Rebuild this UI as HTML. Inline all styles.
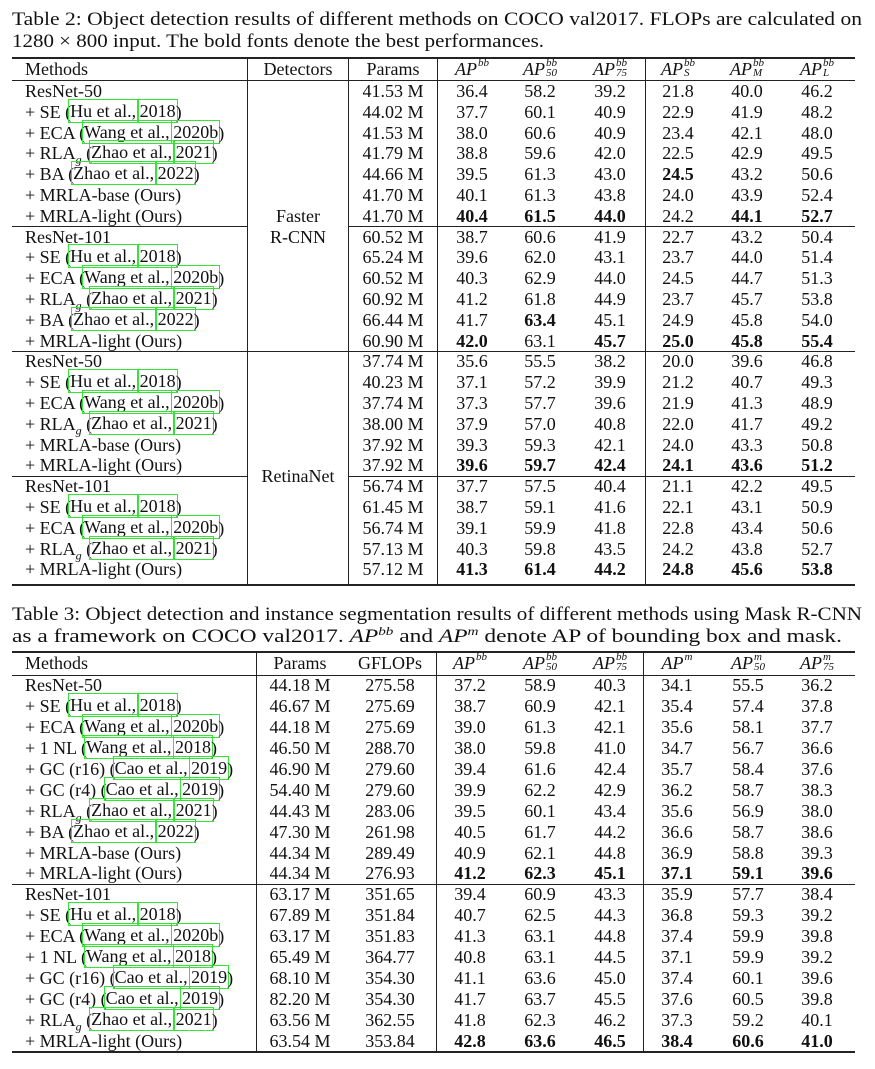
<!DOCTYPE html>
<html><head><meta charset="utf-8">
<style>
html,body{margin:0;padding:0;background:#fff;}
body{width:875px;height:1069px;position:relative;overflow:hidden;font-family:"Liberation Serif",serif;color:#111;}
.c{position:absolute;height:22px;line-height:22px;font-size:18px;white-space:nowrap;}
.m{transform:translateX(-50%);}
.hl{position:absolute;background:#222;}
.cb{display:inline-block;border:1.5px solid #33e633;height:22px;line-height:22px;margin:-2px -2px -2px -3px;padding:0 1px;vertical-align:top;}
.ap{font-style:italic;}
.ss{display:inline-block;vertical-align:top;font-size:11px;line-height:10px;font-style:italic;margin-left:1px;}
.ss span{display:block;}
sub{font-size:12px;font-style:italic;line-height:0;}
svg{position:absolute;left:0;top:0;}
</style></head>
<body>
<svg width="875" height="1069">
<text x="12" y="25" font-family="Liberation Serif" font-size="18.5" fill="#111" textLength="850" lengthAdjust="spacingAndGlyphs">Table 2: Object detection results of different methods on COCO val2017. FLOPs are calculated on</text>
<text x="12" y="47" font-family="Liberation Serif" font-size="18.5" fill="#111" textLength="532" lengthAdjust="spacingAndGlyphs">1280 × 800 input. The bold fonts denote the best performances.</text>
<text x="12" y="620" font-family="Liberation Serif" font-size="18.5" fill="#111" textLength="850" lengthAdjust="spacingAndGlyphs">Table 3: Object detection and instance segmentation results of different methods using Mask R-CNN</text>
<text x="12" y="642" font-family="Liberation Serif" font-size="18.5" fill="#111" textLength="830" lengthAdjust="spacingAndGlyphs">as a framework on COCO val2017. <tspan font-style="italic">AP</tspan><tspan font-style="italic" font-size="12" dy="-7">bb</tspan><tspan dy="7"> and </tspan><tspan font-style="italic">AP</tspan><tspan font-style="italic" font-size="12" dy="-7">m</tspan><tspan dy="7"> denote AP of bounding box and mask.</tspan></text>
</svg>
<div id="root"></div>
<script>
const t2Methods=["ResNet-50","+ SE (|Hu et al.,|2018|)","+ ECA (|Wang et al.,|2020b|)","+ RLA_g (|Zhao et al.,|2021|)","+ BA (|Zhao et al.,|2022|)","+ MRLA-base (Ours)","+ MRLA-light (Ours)",
"ResNet-101","+ SE (|Hu et al.,|2018|)","+ ECA (|Wang et al.,|2020b|)","+ RLA_g (|Zhao et al.,|2021|)","+ BA (|Zhao et al.,|2022|)","+ MRLA-light (Ours)",
"ResNet-50","+ SE (|Hu et al.,|2018|)","+ ECA (|Wang et al.,|2020b|)","+ RLA_g (|Zhao et al.,|2021|)","+ MRLA-base (Ours)","+ MRLA-light (Ours)",
"ResNet-101","+ SE (|Hu et al.,|2018|)","+ ECA (|Wang et al.,|2020b|)","+ RLA_g (|Zhao et al.,|2021|)","+ MRLA-light (Ours)"];
const t2Vals=[
["41.53 M","36.4","58.2","39.2","21.8","40.0","46.2"],
["44.02 M","37.7","60.1","40.9","22.9","41.9","48.2"],
["41.53 M","38.0","60.6","40.9","23.4","42.1","48.0"],
["41.79 M","38.8","59.6","42.0","22.5","42.9","49.5"],
["44.66 M","39.5","61.3","43.0","*24.5","43.2","50.6"],
["41.70 M","40.1","61.3","43.8","24.0","43.9","52.4"],
["41.70 M","*40.4","*61.5","*44.0","24.2","*44.1","*52.7"],
["60.52 M","38.7","60.6","41.9","22.7","43.2","50.4"],
["65.24 M","39.6","62.0","43.1","23.7","44.0","51.4"],
["60.52 M","40.3","62.9","44.0","24.5","44.7","51.3"],
["60.92 M","41.2","61.8","44.9","23.7","45.7","53.8"],
["66.44 M","41.7","*63.4","45.1","24.9","45.8","54.0"],
["60.90 M","*42.0","63.1","*45.7","*25.0","*45.8","*55.4"],
["37.74 M","35.6","55.5","38.2","20.0","39.6","46.8"],
["40.23 M","37.1","57.2","39.9","21.2","40.7","49.3"],
["37.74 M","37.3","57.7","39.6","21.9","41.3","48.9"],
["38.00 M","37.9","57.0","40.8","22.0","41.7","49.2"],
["37.92 M","39.3","59.3","42.1","24.0","43.3","50.8"],
["37.92 M","*39.6","*59.7","*42.4","*24.1","*43.6","*51.2"],
["56.74 M","37.7","57.5","40.4","21.1","42.2","49.5"],
["61.45 M","38.7","59.1","41.6","22.1","43.1","50.9"],
["56.74 M","39.1","59.9","41.8","22.8","43.4","50.6"],
["57.13 M","40.3","59.8","43.5","24.2","43.8","52.7"],
["57.12 M","*41.3","*61.4","*44.2","*24.8","*45.6","*53.8"]];
const t3Methods=["ResNet-50","+ SE (|Hu et al.,|2018|)","+ ECA (|Wang et al.,|2020b|)","+ 1 NL (|Wang et al.,|2018|)","+ GC (r16) (|Cao et al.,|2019|)","+ GC (r4) (|Cao et al.,|2019|)","+ RLA_g (|Zhao et al.,|2021|)","+ BA (|Zhao et al.,|2022|)","+ MRLA-base (Ours)","+ MRLA-light (Ours)",
"ResNet-101","+ SE (|Hu et al.,|2018|)","+ ECA (|Wang et al.,|2020b|)","+ 1 NL (|Wang et al.,|2018|)","+ GC (r16) (|Cao et al.,|2019|)","+ GC (r4) (|Cao et al.,|2019|)","+ RLA_g (|Zhao et al.,|2021|)","+ MRLA-light (Ours)"];
const t3Vals=[
["44.18 M","275.58","37.2","58.9","40.3","34.1","55.5","36.2"],
["46.67 M","275.69","38.7","60.9","42.1","35.4","57.4","37.8"],
["44.18 M","275.69","39.0","61.3","42.1","35.6","58.1","37.7"],
["46.50 M","288.70","38.0","59.8","41.0","34.7","56.7","36.6"],
["46.90 M","279.60","39.4","61.6","42.4","35.7","58.4","37.6"],
["54.40 M","279.60","39.9","62.2","42.9","36.2","58.7","38.3"],
["44.43 M","283.06","39.5","60.1","43.4","35.6","56.9","38.0"],
["47.30 M","261.98","40.5","61.7","44.2","36.6","58.7","38.6"],
["44.34 M","289.49","40.9","62.1","44.8","36.9","58.8","39.3"],
["44.34 M","276.93","*41.2","*62.3","*45.1","*37.1","*59.1","*39.6"],
["63.17 M","351.65","39.4","60.9","43.3","35.9","57.7","38.4"],
["67.89 M","351.84","40.7","62.5","44.3","36.8","59.3","39.2"],
["63.17 M","351.83","41.3","63.1","44.8","37.4","59.9","39.8"],
["65.49 M","364.77","40.8","63.1","44.5","37.1","59.9","39.2"],
["68.10 M","354.30","41.1","63.6","45.0","37.4","60.1","39.6"],
["82.20 M","354.30","41.7","63.7","45.5","37.6","60.5","39.8"],
["63.56 M","362.55","41.8","62.3","46.2","37.3","59.2","40.1"],
["63.54 M","353.84","*42.8","*63.6","*46.5","*38.4","*60.6","*41.0"]];
const t2Head=["Methods","Detectors","Params","AP|bb|","AP|bb|50","AP|bb|75","AP|bb|S","AP|bb|M","AP|bb|L"];
const t3Head=["Methods","Params","GFLOPs","AP|bb|","AP|bb|50","AP|bb|75","AP|m|","AP|m|50","AP|m|75"];

const root=document.getElementById('root');
function cell(x,y,html,center,name){
  const d=document.createElement('div');
  d.className='c'+(center?' m':'');
  d.style.left=x+'px';d.style.top=(y-11)+'px';
  d.innerHTML=html;
  
  
  root.appendChild(d);
}
function line(x,y,w,h,name){
  const d=document.createElement('div');
  d.className='hl';
  d.style.left=x+'px';d.style.top=y+'px';d.style.width=w+'px';d.style.height=h+'px';
  
  
  root.appendChild(d);
}
function methodHtml(s){
  const p=s.split('|');
  const f=t=>t.replace('_g','<sub>g</sub>');
  if(p.length===1) return f(p[0]);
  return f(p[0])+'<span class="cb">'+p[1]+'</span> <span class="cb">'+p[2]+'</span>'+p[3];
}
function headHtml(s){
  const p=s.split('|');
  if(p.length===1) return p[0];
  return '<span class="ap">AP</span><span class="ss"><span>'+p[1]+'</span><span>'+(p[2]||'&nbsp;')+'</span></span>';
}
function valHtml(v){return v[0]==='*'?'<b>'+v.slice(1)+'</b>':v;}

// Table 2
const t2Y0=91,t2dy=20.8;
const t2Cols=[25,298,393,472,540,610,678,747,817];
const t2ValCols=[393,472,540,610,678,747,817];
t2Head.forEach((h,i)=>cell(t2Cols[i],69,headHtml(h),i>0,'t2-header-'+i));
t2Methods.forEach((m,r)=>{
  const y=t2Y0+r*t2dy;
  cell(25,y,methodHtml(m),false,'t2-method-row-'+r);
  t2Vals[r].forEach((v,c)=>cell(t2ValCols[c],y,valHtml(v),true,'t2-value-r'+r+'-c'+c));
});
cell(298,t2Y0+6*t2dy,'Faster',true,'t2-detector-faster');
cell(298,t2Y0+7*t2dy,'R-CNN',true,'t2-detector-rcnn');
cell(298,t2Y0+18.5*t2dy,'RetinaNet',true,'t2-detector-retinanet');
line(12,57,843,2,'t2-top-rule');
line(12,80,843,1.3,'t2-header-rule');
line(12,t2Y0+6.5*t2dy,235,1.3,'t2-mid-rule-a1');
line(348,t2Y0+6.5*t2dy,507,1.3,'t2-mid-rule-a2');
line(12,t2Y0+12.5*t2dy,843,1.3,'t2-mid-rule-b');
line(12,t2Y0+18.5*t2dy,235,1.3,'t2-mid-rule-c1');
line(348,t2Y0+18.5*t2dy,507,1.3,'t2-mid-rule-c2');
line(12,584,843,2,'t2-bottom-rule');
[247,348,437,645].forEach((x,i)=>line(x,58,1.3,526,'t2-vline-'+i));

// Table 3
const t3Y0=685,t3dy=20.94;
const t3Cols=[25,300,390,470,540,610,677,748,817];
const t3ValCols=[300,390,470,540,610,677,748,817];
t3Head.forEach((h,i)=>cell(t3Cols[i],663,headHtml(h),i>0,'t3-header-'+i));
t3Methods.forEach((m,r)=>{
  const y=t3Y0+r*t3dy;
  cell(25,y,methodHtml(m),false,'t3-method-row-'+r);
  t3Vals[r].forEach((v,c)=>cell(t3ValCols[c],y,valHtml(v),true,'t3-value-r'+r+'-c'+c));
});
line(12,651,843,2,'t3-top-rule');
line(12,675,843,1.3,'t3-header-rule');
line(12,t3Y0+9.5*t3dy,843,1.3,'t3-mid-rule');
line(12,1051,843,2,'t3-bottom-rule');
[256,436,643].forEach((x,i)=>line(x,652,1.3,399,'t3-vline-'+i));
</script>
</body></html>
